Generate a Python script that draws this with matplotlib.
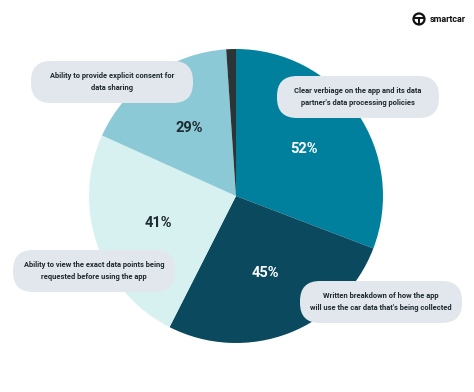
import matplotlib
matplotlib.use("Agg")
import matplotlib.pyplot as plt
import numpy as np
from matplotlib.patches import FancyBboxPatch, Circle

plt.rcParams["font.family"] = ["Roboto", "DejaVu Sans"]

# slice values, clockwise from 12 o'clock
values = [52, 45, 41, 29, 1.8]
pct_labels = ["52%", "45%", "41%", "29%", ""]
colors = ["#00809d", "#0b4a5e", "#d7f0f0", "#8cc9d6", "#2b3436"]
pct_colors = ["white", "white", "#1e2a30", "#1e2a30", "white"]

callouts = [
    "Clear verbiage on the app and its data\npartner's data processing policies",
    "Written breakdown of how the app\nwill use the car data that's being collected",
    "Ability to view the exact data points being\nrequested before using the app",
    "Ability to provide explicit consent for\ndata sharing",
]
# callout box centres in pixels (x, y from top)
box_xy = [(358, 97), (381, 302), (94, 271), (112, 82)]

W, H = 474, 392
fig = plt.figure(figsize=(W / 100, H / 100), dpi=100)
fig.patch.set_facecolor("white")

cx, cy, R = 236, 196, 147
ax = fig.add_axes([(cx - R) / W, (H - cy - R) / H, 2 * R / W, 2 * R / H])
wedges, _ = ax.pie(values, colors=colors, startangle=90, counterclock=False,
                   radius=1, wedgeprops=dict(linewidth=0))
ax.set_xlim(-1, 1); ax.set_ylim(-1, 1); ax.set_aspect("equal"); ax.axis("off")

for w, lab, col in zip(wedges, pct_labels, pct_colors):
    if not lab:
        continue
    a = np.deg2rad((w.theta1 + w.theta2) / 2)
    r = 0.56
    ax.text(r * np.cos(a), r * np.sin(a), lab, ha="center", va="center",
            fontsize=10.5, fontweight="bold", color=col)

# overlay in pixel units for the rounded call-out boxes and logo
ov = fig.add_axes([0, 0, 1, 1], zorder=5)
ov.set_xlim(0, W); ov.set_ylim(H, 0); ov.axis("off"); ov.patch.set_alpha(0)

bw, bh = 162, 42
for (x, y), txt in zip(box_xy, callouts):
    ov.add_patch(FancyBboxPatch((x - bw / 2, y - bh / 2), bw, bh,
                                boxstyle="round,pad=0,rounding_size=20",
                                facecolor="#e2e7ed", edgecolor="none"))
    ov.text(x, y, txt, ha="center", va="center", fontsize=5.4,
            fontweight="bold", color="#1e2a30", linespacing=1.6)

# smartcar logo
ov.add_patch(Circle((419, 19), 5.5, facecolor="none", edgecolor="#111111", lw=1.6))
ov.plot([414, 424], [18, 18], color="#111111", lw=1.4)
ov.plot([419, 419], [18, 24], color="#111111", lw=1.4)
ov.text(430, 19, "smartcar", ha="left", va="center", fontsize=6.5,
        fontweight="bold", color="#111111")

fig.savefig("out.png", dpi=100, facecolor="white")
